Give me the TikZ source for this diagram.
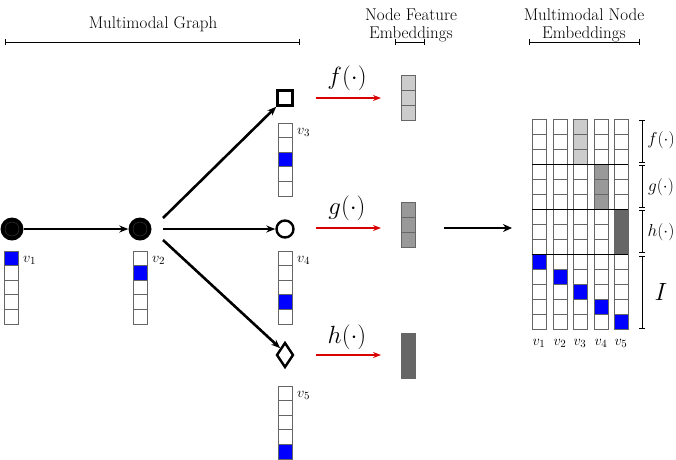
\documentclass[tikz,border=0pt]{standalone}
\usetikzlibrary{shapes.geometric,arrows.meta,calc}
\newcommand{\fs}[1]{\fontsize{#1}{#1}\selectfont}
\begin{document}
\begin{tikzpicture}[x=1pt,y=-1pt,
 cell/.style={draw=black!60,line width=0.9pt},
 blue cell/.style={cell,fill=blue},
 arr/.style={-{Stealth[length=9pt,width=7pt]},line width=2.6pt},
 redarr/.style={-{Stealth[length=8pt,width=6pt]},line width=1.5pt,red!85!black},
 bar/.style={|-|,line width=0.8pt},
 lbl/.style={font=\fs{15},anchor=west,inner sep=0pt}]
\useasboundingbox (0,0) rectangle (676,459);
% headers
\node[font=\fs{17}] (h1) at (153,24) {Multimodal Graph};
\draw[bar] (5,42) -- (300,42);
\node[align=center,font=\fs{17},inner sep=0pt] (h2) at (411,25) {Node Feature\\[1pt]Embeddings};
\draw[bar] (395,42) -- (425,42);
\node[align=center,font=\fs{17},inner sep=0pt] (h3) at (584,25) {Multimodal Node\\[1pt]Embeddings};
\draw[bar] (529,42) -- (640,42);
% nodes
\node[circle,fill=black,minimum size=23pt,inner sep=0pt] (n1) at (12,229) {};
\draw[black!75,line width=0.4pt] (n1) circle (7);
\node[circle,fill=black,minimum size=23pt,inner sep=0pt] (n2) at (140,229) {};
\draw[black!75,line width=0.4pt] (n2) circle (7);
\node[draw,line width=2.4pt,minimum size=15pt,inner sep=0pt] (n3) at (285,98) {};
\node[draw,circle,line width=2.4pt,minimum size=17pt,inner sep=0pt] (n4) at (285,229) {};
\node[draw,diamond,line width=2.4pt,minimum width=17pt,minimum height=25pt,inner sep=0pt] (n5) at (285,355) {};
% vectors
\foreach \x/\y/\b/\l in {4/251/1/1,133/251/2/2,278/123/3/3,278/251/4/4,278/386/5/5}{
  \foreach \i in {1,...,5}{
    \ifnum\i=\b
      \draw[blue cell] (\x,{\y+(\i-1)*14.6}) rectangle ++(14,14.6);
    \else
      \draw[cell] (\x,{\y+(\i-1)*14.6}) rectangle ++(14,14.6);
    \fi}
  \node[lbl] at (\x+19,\y+9) {$v_\l$};
}
% arrows
\draw[arr] (n1) -- (n2);
\draw[arr] (163,218) -- (n3.south west);
\draw[arr] (163,229) -- (n4);
\draw[arr] (163,240) -- (n5.north west);
% red arrows and labels
\coordinate (fe) at (401,98);
\coordinate (ge) at (401,228);
\coordinate (he) at (401,355);
\draw[redarr] (316,98) -- ($(fe)+(-20,0)$);
\draw[redarr] (316,228) -- ($(ge)+(-20,0)$);
\draw[redarr] (316,355) -- ($(he)+(-20,0)$);
\node[font=\fs{23}] (fl) at (347,78) {$f(\cdot)$};
\node[font=\fs{23}] (gl) at (347,208) {$g(\cdot)$};
\node[font=\fs{23}] (hl) at (347,337) {$h(\cdot)$};
% embeddings
\foreach \y/\c in {75/black!20,202/black!40,333/black!60}{
  \foreach \i in {0,1,2}{\draw[cell,fill=\c] (401,\y+\i*15) rectangle ++(14,15);}}
% arrow to matrix
\draw[-{Stealth[length=9pt,width=8pt]},line width=1.8pt] (444,228) -- (512,228);
% matrix
\foreach \c/\x in {1/532,2/553,3/573,4/594,5/614}{
  \foreach \r in {1,...,14}{
    \pgfmathtruncatemacro{\bl}{\r==\c+9 ? 1 : 0}
    \def\fc{white}
    \ifnum\c=3 \ifnum\r<4 \def\fc{black!20}\fi\fi
    \ifnum\c=4 \ifnum\r>3 \ifnum\r<7 \def\fc{black!40}\fi\fi\fi
    \ifnum\c=5 \ifnum\r>6 \ifnum\r<10 \def\fc{black!60}\fi\fi\fi
    \ifnum\bl=1 \def\fc{blue}\fi
    \draw[cell,fill=\fc] (\x,{119+(\r-1)*15}) rectangle ++(14,15);
  }
  \node[font=\fs{15}] at (\x+7,343) {$v_\c$};
}
\foreach \r in {3,6,9}{\draw[line width=0.9pt] (532,119+\r*15) -- (628,119+\r*15);}
% right bars
\draw[bar] (642,120) -- (642,163);
\draw[bar] (642,165) -- (642,208);
\draw[bar] (642,210) -- (642,253);
\draw[bar] (642,256) -- (642,329);
\node[font=\fs{16}] at (661,140) {$f(\cdot)$};
\node[font=\fs{16}] at (661,187) {$g(\cdot)$};
\node[font=\fs{16}] at (661,232) {$h(\cdot)$};
\node[font=\fs{24}] at (661,292) {$I$};
\end{tikzpicture}
\end{document}
